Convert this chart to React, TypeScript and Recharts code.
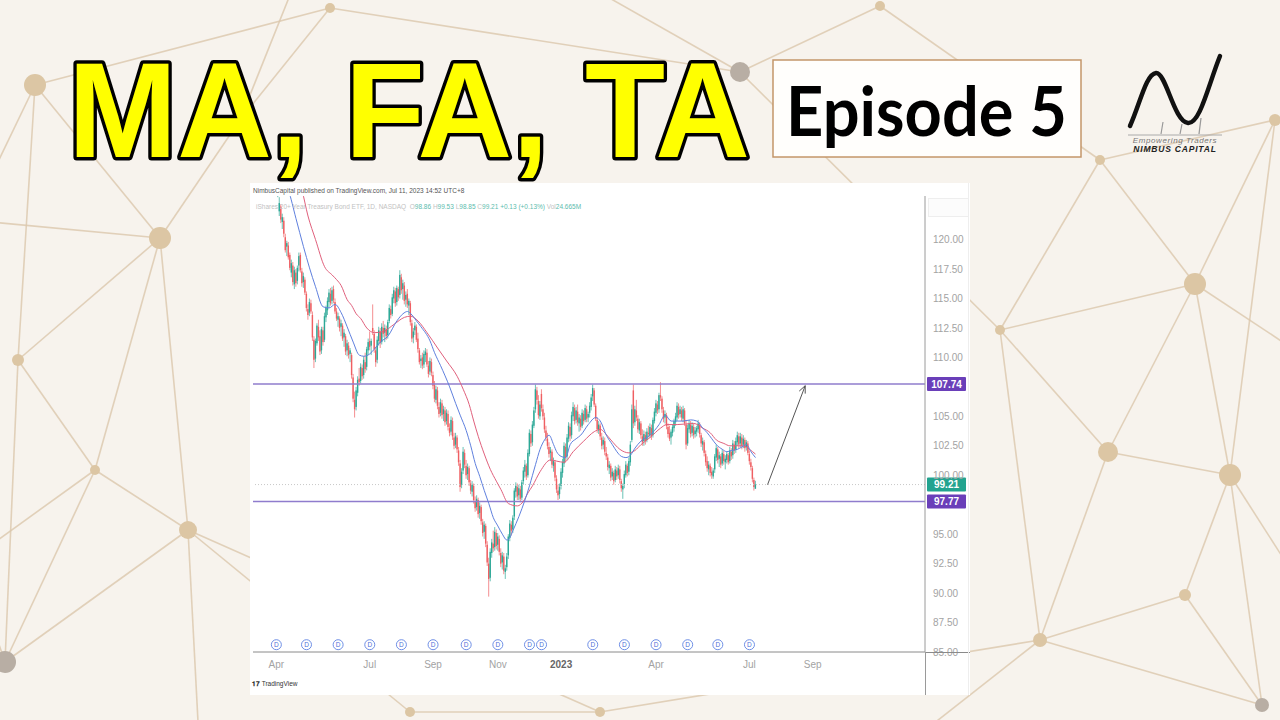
import React from 'react';
import { ComposedChart, Bar, Line, XAxis, YAxis, ReferenceLine } from 'recharts';

// ---------------- DATA ----------------
const SLOT_COUNT = 446; // daily slots incl. empty future space
const CANDLE_START = 12; // slot index of first candle

// [open, high, low, close] per trading day
const candles: number[][] = [
  [127.5,128.0,126.2,126.6],[126.4,126.9,125.2,125.6],[125.9,126.6,124.8,125.0],[124.6,125.3,123.9,124.2],[124.5,125.1,123.6,124.8],
  [122.4,123.6,122.0,123.1],[122.8,123.0,121.4,121.7],[121.5,122.2,120.9,121.9],[121.6,121.9,120.2,120.5],[120.2,120.5,118.9,119.1],
  [119.4,119.9,118.6,119.7],[119.5,119.8,118.3,118.5],[118.7,118.9,117.4,117.6],[117.2,118.3,116.8,118.0],[117.8,118.1,116.1,116.4],
  [116.2,117.7,115.8,117.4],[117.2,117.5,116.0,116.3],[116.5,117.8,116.2,117.6],[117.8,118.9,117.3,118.6],[118.7,118.9,117.2,117.4],
  [117.3,117.6,116.0,116.3],[116.4,117.2,115.9,116.9],[116.6,116.8,115.3,115.5],[115.4,115.6,113.9,114.2],[114.1,114.5,113.2,113.6],
  [113.8,115.0,113.5,114.7],[114.6,114.9,113.7,113.9],[113.6,113.9,111.4,111.7],[111.5,111.8,109.1,109.8],[109.9,111.6,109.6,111.4],
  [111.2,112.9,111.0,112.7],[112.6,113.2,111.4,111.7],[111.8,112.3,110.2,110.5],[110.6,112.6,110.3,112.4],[112.3,112.6,111.0,111.3],
  [111.5,113.8,111.3,113.5],[113.4,114.4,113.0,114.2],[114.0,115.1,113.6,114.8],[114.7,115.8,114.2,115.5],[115.4,115.9,114.4,114.6],
  [114.8,116.0,114.5,115.7],[115.8,116.1,114.6,114.9],[114.7,115.0,113.7,113.9],[113.9,114.2,113.1,113.3],[113.2,113.8,112.6,113.5],
  [113.3,113.5,112.2,112.5],[112.6,113.2,111.8,112.9],[112.7,112.9,111.4,111.6],[111.7,112.4,110.9,112.1],[111.8,112.0,110.2,110.5],
  [110.6,111.5,110.1,111.2],[111.0,111.3,109.9,110.2],[110.3,110.8,109.6,110.6],[110.2,110.4,108.2,108.5],[108.3,108.6,106.2,106.5],
  [106.4,107.1,104.9,105.6],[105.8,107.5,105.5,107.2],[107.0,108.4,106.7,108.1],[108.2,109.1,107.6,107.9],[108.0,109.5,107.8,109.2],
  [109.1,109.4,108.1,108.4],[108.5,110.1,108.2,109.8],[109.6,110.4,108.7,109.0],[109.2,110.9,108.9,110.7],[110.6,111.6,110.2,111.3],
  [111.4,112.2,110.6,110.9],[111.0,111.6,110.2,111.4],[112.5,114.5,111.9,112.2],[112.0,112.3,110.4,110.7],[110.6,110.9,109.2,109.6],
  [109.8,111.8,109.5,111.5],[111.4,112.6,111.0,112.3],[112.2,112.5,110.8,111.2],[111.3,112.9,111.1,112.6],[112.5,113.1,111.7,112.0],
  [112.1,112.8,111.3,112.5],[112.4,112.7,111.5,111.8],[111.9,113.2,111.6,113.0],[113.1,114.5,112.9,114.2],[114.1,114.4,113.3,113.6],
  [113.7,115.4,113.5,115.1],[115.0,116.0,114.6,115.7],[115.6,115.9,114.3,114.6],[114.7,116.1,114.4,115.9],[115.8,116.0,114.8,115.1],
  [115.3,117.4,115.0,117.0],[116.8,117.1,115.4,115.7],[115.8,116.6,114.9,116.3],[116.1,116.4,114.5,114.8],[114.9,115.6,114.3,115.3],
  [115.4,115.8,114.2,114.5],[114.4,115.0,113.6,114.8],[114.6,114.8,112.7,113.0],[112.9,113.2,111.3,111.6],[111.7,112.5,111.2,112.2],
  [112.3,113.0,111.9,112.7],[112.6,112.8,111.3,111.5],[111.6,112.1,110.4,110.7],[110.6,110.8,109.4,109.6],[109.7,110.2,109.1,109.9],
  [110.0,110.4,109.0,109.3],[109.4,110.6,109.1,110.3],[110.2,110.8,109.6,110.5],[110.4,110.7,109.2,109.4],[109.3,109.7,108.3,108.6],
  [108.8,110.0,108.5,109.7],[109.6,109.9,108.4,108.7],[108.5,108.8,107.3,107.6],[107.7,108.0,106.2,106.5],[106.4,107.6,106.1,107.3],
  [107.2,107.5,105.6,105.9],[105.8,106.2,104.9,105.2],[105.3,106.5,105.0,106.2],[106.1,106.4,104.8,105.1],[105.2,105.9,104.6,105.6],
  [105.5,105.8,104.2,104.5],[104.6,105.6,104.3,105.3],[105.2,105.5,103.8,104.1],[104.0,104.4,103.3,103.6],[103.7,105.0,103.4,104.7],
  [104.6,104.9,103.0,103.3],[103.2,103.6,102.2,102.5],[102.6,103.6,102.3,103.3],[103.2,103.4,101.9,102.2],[102.1,102.4,100.8,101.1],
  [101.0,101.3,98.6,99.0],[99.2,100.6,98.9,100.3],[100.4,102.4,100.1,102.0],[101.9,102.2,100.6,100.9],[100.8,101.3,99.7,100.0],
  [100.1,101.0,99.6,100.7],[100.6,100.8,99.1,99.4],[99.3,99.6,98.4,98.7],[98.6,99.5,98.2,99.2],[99.1,99.3,97.6,97.9],
  [97.8,98.2,96.9,97.2],[97.3,98.3,97.0,98.0],[97.9,98.1,96.4,96.7],[96.8,97.7,96.3,97.4],[97.3,97.5,95.8,96.1],
  [96.0,96.3,94.8,95.1],[95.2,96.1,94.6,95.8],[95.7,95.9,93.9,94.2],[94.1,94.4,92.3,92.6],[92.5,93.0,89.7,91.2],
  [91.3,93.8,91.0,93.5],[93.4,94.6,93.0,94.3],[94.2,95.3,93.5,93.8],[93.9,95.6,93.6,95.2],[95.1,95.4,93.7,94.0],
  [94.1,95.1,93.6,94.8],[94.6,94.9,93.2,93.5],[93.4,93.8,92.2,92.5],[92.6,93.5,92.0,93.2],[93.1,93.4,91.6,91.9],
  [91.8,92.4,91.2,92.1],[92.2,93.4,91.9,93.1],[93.2,95.0,92.9,94.8],[94.7,96.2,94.4,95.9],[95.8,96.1,94.9,95.3],
  [95.4,96.6,95.1,96.4],[96.5,98.9,96.2,98.7],[98.6,99.4,98.1,99.1],[99.0,99.3,97.9,98.2],[98.3,99.2,97.9,98.9],
  [98.8,99.1,97.7,98.0],[98.1,99.6,97.9,99.4],[99.5,100.7,99.2,100.4],[100.3,101.3,99.8,100.9],[100.8,101.0,99.6,99.9],
  [100.0,102.2,99.8,101.9],[101.8,103.9,101.6,103.6],[103.5,103.8,102.4,102.7],[102.8,104.6,102.5,104.3],[104.2,105.8,104.0,105.5],
  [105.6,107.7,105.3,107.3],[107.2,107.5,106.0,106.4],[106.3,106.8,104.8,105.1],[105.0,106.3,104.7,106.0],[106.9,107.3,105.4,105.7],
  [105.6,106.0,104.7,105.0],[104.9,105.3,103.6,103.9],[103.8,104.2,102.9,103.2],[103.1,103.6,102.2,102.5],[102.4,102.8,101.5,101.8],
  [101.9,102.4,101.2,102.1],[102.0,102.2,100.6,100.9],[100.8,101.5,100.3,101.2],[101.1,101.3,99.5,99.8],[99.7,100.0,98.5,98.8],
  [98.7,99.2,97.9,98.3],[98.4,99.3,98.0,99.0],[99.1,100.6,98.8,100.3],[100.2,101.4,99.8,101.1],[101.0,102.8,100.7,102.5],
  [102.4,102.7,101.1,101.5],[101.6,103.5,101.3,103.2],[103.1,104.5,102.8,104.2],[104.1,104.4,102.9,103.3],[103.4,105.4,103.1,105.1],
  [105.0,106.2,104.6,105.8],[105.7,106.0,104.3,104.6],[104.7,105.8,104.4,105.5],[105.4,106.0,104.2,104.5],[104.4,105.2,103.7,104.9],
  [104.8,105.1,103.8,104.1],[104.2,105.6,104.0,105.3],[105.2,105.5,104.3,104.6],[104.7,106.0,104.5,105.7],[105.6,105.9,104.5,104.8],
  [104.9,105.4,104.5,105.2],[105.3,106.2,104.9,105.9],[105.8,106.9,105.5,106.6],[106.7,107.7,106.3,107.4],[107.2,107.4,105.8,106.0],
  [105.9,106.1,104.6,104.8],[104.7,104.9,103.6,103.9],[103.8,104.6,103.5,104.3],[104.2,104.4,103.0,103.3],[103.2,103.6,102.2,102.5],
  [102.6,103.3,102.2,103.0],[102.9,103.2,101.7,102.0],[101.9,102.4,101.3,101.6],[101.5,101.8,100.4,100.7],[100.6,101.2,100.1,100.9],
  [100.8,101.0,99.5,99.8],[99.9,100.6,99.6,100.3],[100.2,100.4,99.2,99.5],[99.6,100.8,99.4,100.5],[100.4,100.7,99.6,99.9],
  [100.0,100.9,99.7,100.6],[100.5,100.8,99.3,99.6],[99.5,99.7,98.6,98.9],[98.8,99.3,98.0,99.1],[99.2,100.4,98.9,100.1],
  [100.0,101.2,99.8,100.9],[100.8,101.0,99.9,100.2],[100.3,101.5,100.0,101.2],[101.1,102.9,100.8,102.6],[103.0,106.0,102.8,105.6],
  [107.2,107.7,104.0,104.4],[104.5,105.9,104.2,105.6],[105.5,106.4,104.6,104.9],[104.8,105.1,103.6,103.9],[103.8,104.8,103.5,104.5],
  [104.4,104.6,103.1,103.4],[103.3,103.9,102.5,102.8],[102.9,103.8,102.5,103.5],[103.4,103.7,102.6,102.9],[103.0,104.0,102.8,103.7],
  [103.6,104.2,103.2,103.5],[103.4,104.4,103.2,104.1],[104.0,104.3,103.0,103.3],[103.4,104.9,103.2,104.7],[104.6,105.7,104.4,105.4],
  [105.3,106.4,105.0,106.1],[106.0,106.3,105.2,105.5],[105.6,107.0,105.3,106.8],[106.8,107.9,106.3,106.6],[106.5,106.7,105.3,105.6],
  [105.5,105.8,104.5,104.8],[104.9,105.5,104.4,105.2],[105.1,105.3,103.9,104.2],[104.1,104.4,103.2,103.5],[103.6,104.2,102.9,103.1],
  [103.2,103.9,102.6,103.7],[103.6,104.3,103.3,104.1],[104.0,104.8,103.7,104.6],[104.5,105.3,104.2,105.0],[104.9,106.2,104.6,105.9],
  [105.8,106.1,104.8,105.1],[105.2,105.9,104.9,105.6],[105.5,105.8,104.6,104.9],[104.8,105.9,104.5,105.6],[105.5,105.7,104.2,104.4],
  [104.3,104.7,102.2,102.6],[102.7,104.3,102.5,104.0],[103.9,104.7,103.6,104.4],[104.3,104.6,103.2,103.5],[103.6,104.5,103.3,104.2],
  [104.1,104.4,103.1,103.4],[103.5,104.1,103.2,103.8],[103.7,104.2,103.3,104.0],[103.9,104.7,103.6,104.4],[104.3,104.5,103.2,103.5],
  [103.4,103.6,102.4,102.7],[102.6,103.2,102.1,102.9],[102.8,103.0,101.6,101.9],[101.8,102.1,100.8,101.1],[101.2,101.6,100.3,100.6],
  [100.5,101.2,100.0,100.9],[100.8,101.0,99.9,100.2],[100.3,100.7,99.7,100.0],[99.9,100.6,99.7,100.4],[100.5,101.8,100.2,101.6],
  [101.5,102.6,101.2,102.3],[102.2,102.4,101.0,101.3],[101.4,102.0,100.7,101.7],[101.6,101.8,100.6,100.9],[101.0,102.2,100.8,101.9],
  [101.8,102.1,100.9,101.2],[101.1,101.7,100.5,101.4],[101.3,102.0,101.0,101.8],[101.7,101.9,100.9,101.1],[101.2,102.4,101.0,102.1],
  [102.0,102.3,101.3,101.6],[101.7,103.0,101.4,102.7],[102.6,102.9,101.8,102.1],[102.2,103.2,101.9,102.9],[102.8,103.7,102.5,103.4],
  [103.3,103.6,102.3,102.6],[102.7,103.6,102.4,103.3],[103.2,103.5,102.2,102.5],[102.6,103.4,102.3,103.1],[103.0,103.2,102.0,102.3],
  [102.4,103.0,102.1,102.8],[102.7,102.9,101.7,101.9],[101.8,102.1,100.9,101.2],[101.1,101.4,100.4,100.7],[100.6,100.8,99.4,99.7],
  [99.6,99.8,98.7,99.0],[98.86,99.53,98.85,99.21],
];

// moving averages: [slot, value]
const maFast: number[][] = [
  [14,127],[18,125.5],[23,124.2],[28,121.8],[33,119.4],[37,117.6],[41,116],[46,114.3],[50,114.2],[54,114.5],[58,113.8],[62,112.6],
  [66,111.3],[70,110.2],[73,110.1],[77,110.3],[80,110.7],[84,111.3],[89,111.8],[95,113.1],[99,113.7],[102,113.9],[105,113.6],
  [108,113.1],[111,112.6],[117,111.4],[120,110.4],[124,109.3],[130,107.5],[134,106.1],[137,105.1],[141,103.8],[144,102.5],[147,101],
  [150,99.9],[153,98.7],[156,97.6],[159,96.4],[162,95.7],[165,95.0],[168,94.5],[170,94.7],[172,95.3],[176,96.5],[180,97.9],[183,99.1],
  [185,100],[187,100.9],[190,102.2],[193,103],[196,103.4],[199,102.6],[201,102.0],[204,101.6],[207,101.5],[210,102.6],[214,103.1],
  [217,103.4],[222,104.3],[227,104.9],[230,104.6],[234,103.4],[238,102.6],[241,102],[244,101.6],[247,101.5],[250,101.7],[253,102.3],
  [257,102.9],[263,103.4],[266,103.8],[269,104.3],[273,105.1],[277,104.6],[281,104.6],[285,104.6],[290,104.7],[294,104.6],[298,104.0],
  [301,103.6],[304,103.1],[307,102.6],[311,102.2],[314,102],[317,102.1],[321,102.2],[324,102.4],[327,102.6],[330,102],[333,101.5],
];
const maSlow: number[][] = [
  [14,131],[20,128.5],[26,126.2],[32,124.2],[36,122],[41,120],[47,117.7],[52,117],[55,116.6],[58,116.1],[62,114.9],[65,114.4],
  [68,113.7],[71,113.3],[75,112.5],[80,112.1],[86,112.2],[93,112.8],[100,113.4],[104,113.5],[109,113.1],[115,112.1],[122,110.8],
  [128,109.7],[135,108.4],[139,107.3],[143,106],[146,104.6],[149,103.3],[153,101.8],[157,100.5],[161,99.5],[164,98.8],[169,97.6],
  [175,97.4],[179,97.8],[182,98.5],[185,99.1],[190,100.3],[197,101.3],[201,101.2],[206,101.1],[212,102],[219,102.9],[226,103.7],
  [230,103.9],[233,103.6],[237,103],[243,102.2],[249,101.9],[253,102.1],[257,102.6],[263,103.2],[270,104],[274,104.3],[281,104.3],
  [292,104.4],[298,104],[303,103.6],[307,103],[312,102.7],[316,102.5],[325,102.5],[329,102.2],[333,101.8],
];

const dividendSlots = [15,35,56,77,98,119,141,162,183,191,225,246,267,288,308,329];
const monthTickSlots = [15,77,119,162,204,267,329,371];
const monthTickLabels = ['Apr','Jul','Sep','Nov','2023','Apr','Jul','Sep'];
const priceTicks = [85,87.5,90,92.5,95,100,102.5,105,110,112.5,115,117.5,120];
const resistanceLevel = 107.74;
const supportLevel = 97.77;
const lastClose = 99.21;
const arrowFrom = { slot: 341, price: 99.2 };
const arrowTo = { slot: 366, price: 107.6 };
const arrowHeadA = { slot: 362, price: 107.14 };
const arrowHeadB = { slot: 366, price: 106.93 };

// ---------------- STYLE ----------------
const UP = '#2ba896';
const DOWN = '#ef5f62';
const FAST = '#5f80de';
const SLOW = '#e0607c';
const LEVEL = '#8f7ccd';
const LEVEL_TAG = '#6a3fb9';
const CLOSE_TAG = '#22a38f';
const DIV_Y = 85.62;
const Y_DOMAIN: [number, number] = [85, 123.7];

const fastMap = new Map(maFast.map(([s, v]) => [s, v]));
const slowMap = new Map(maSlow.map(([s, v]) => [s, v]));
const divSet = new Set(dividendSlots);

const table = Array.from({ length: SLOT_COUNT }, (_, i) => {
  const k = i - CANDLE_START;
  const cd = k >= 0 && k < candles.length ? candles[k] : null;
  return {
    i,
    o: cd ? cd[0] : null,
    h: cd ? cd[1] : null,
    l: cd ? cd[2] : null,
    c: cd ? cd[3] : null,
    range: cd ? [cd[2], cd[1]] : null,
    fast: fastMap.has(i) ? fastMap.get(i) : null,
    slow: slowMap.has(i) ? slowMap.get(i) : null,
    div: divSet.has(i) ? DIV_Y : null,
  };
});

const Candle = (props: any) => {
  const { x, y, width, height, payload } = props;
  if (!payload || payload.o == null || x == null) return <g />;
  const { o, h, l, c } = payload;
  const top = Math.min(y, y + height);
  const bot = Math.max(y, y + height);
  const k = (bot - top) / (h - l || 1);
  const yOf = (v: number) => top + (h - v) * k;
  const cx = x + width / 2;
  const col = c >= o ? UP : DOWN;
  const bt = yOf(Math.max(o, c));
  const bb = yOf(Math.min(o, c));
  return (
    <g>
      <line x1={cx} x2={cx} y1={top} y2={bot} stroke={col} strokeWidth={0.7} />
      <rect x={cx - 0.7} y={bt} width={1.4} height={Math.max(0.8, bb - bt)} fill={col} />
    </g>
  );
};

const DivDot = (p: any) => {
  if (p.value == null || p.cx == null) return <g key={`d${p.index}`} />;
  return (
    <g key={`d${p.index}`}>
      <circle cx={p.cx} cy={p.cy} r={5} fill="#fff" stroke="#6f8fe6" strokeWidth={1} />
      <text x={p.cx} y={p.cy + 2.4} textAnchor="middle" fontSize={6.5} fill="#4f6fd8" fontFamily="Liberation Sans, Arial">D</text>
    </g>
  );
};

const PriceTag = (props: any) => {
  const { viewBox, text, bg } = props;
  if (!viewBox) return null;
  const right = viewBox.x + viewBox.width;
  const y = viewBox.y;
  return (
    <g>
      <rect x={right + 2} y={y - 7} width={39} height={14} fill={bg} rx={1} />
      <text x={right + 21.5} y={y + 3.6} textAnchor="middle" fill="#fff" fontSize={10} fontWeight={700} fontFamily="Liberation Sans, Arial">{text}</text>
    </g>
  );
};

const MonthTick = (p: any) => {
  const idx = monthTickSlots.indexOf(p.payload.value);
  const label = idx >= 0 ? monthTickLabels[idx] : '';
  const bold = label === '2023';
  return (
    <text x={p.x} y={p.y + 8} textAnchor="middle" fontSize={10} fill={bold ? '#666' : '#a3a3a3'} fontWeight={bold ? 700 : 400} fontFamily="Liberation Sans, Arial">{label}</text>
  );
};

// decorative background network
const bgNodes: number[][] = [
  [35,85,11],[160,238,11],[188,530,9],[5,662,11],[740,72,10],[1195,284,11],[1108,452,10],[1230,475,11],[1040,640,7],
  [95,470,5],[330,8,5],[1262,705,7],[600,712,5],[1000,330,5],[880,6,5],[1185,595,6],[410,712,5],[18,360,6],[240,120,4],
  [1275,120,6],[1100,160,5],[-30,220,0],[300,-30,0],[1310,360,0],[900,750,0],[200,760,0],[-30,560,0],[560,-30,0],[1310,600,0],
];
const bgEdges: number[][] = [
  [0,1],[0,10],[0,17],[1,17],[1,2],[1,9],[1,18],[18,10],[2,3],[2,9],[2,16],[3,9],[3,17],[4,10],[4,14],[4,13],[4,27],
  [5,6],[5,7],[5,13],[5,19],[5,20],[20,14],[20,13],[6,7],[6,8],[6,13],[7,15],[7,11],[8,15],[8,12],[8,11],[13,8],[12,16],
  [2,12],[19,7],[9,17],[0,21],[18,22],[5,23],[8,24],[2,25],[3,26],[7,28],[15,11],[20,19],[1,21],[9,26],
];

const Background = () => (
  <svg width={1280} height={720} style={{ position: 'absolute', left: 0, top: 0 }}>
    <rect width={1280} height={720} fill="#f7f3ed" />
    {bgEdges.map(([a, b], k) => (
      <line key={k} x1={bgNodes[a][0]} y1={bgNodes[a][1]} x2={bgNodes[b][0]} y2={bgNodes[b][1]} stroke="#dcc8ad" strokeWidth={1.6} opacity={0.8} />
    ))}
    {bgNodes.filter(n => n[2] > 0).map(([x, y, r], k) => (
      <circle key={k} cx={x} cy={y} r={r} fill={k === 3 || k === 4 || k === 11 ? '#b8aea4' : '#dcc6a4'} />
    ))}
  </svg>
);

export default function App() {
  return (
    <div style={{ position: 'absolute', left: 0, top: 0, width: 1280, height: 720, overflow: 'hidden', fontFamily: 'Liberation Sans, Arial, sans-serif' }}>
      <Background />
      {/* Title, episode box, logo */}
      <svg width={1280} height={720} style={{ position: 'absolute', left: 0, top: 0, pointerEvents: 'none' }}>
        <text x={68} y={157} fontSize={135} fontWeight={700} fontFamily="Liberation Sans, Arial" textLength={682} lengthAdjust="spacingAndGlyphs"
          fill="#ffff00" stroke="#000" strokeWidth={7} strokeLinejoin="round" style={{ paintOrder: 'stroke' }}>MA, FA, TA</text>
        <rect x={773} y={60} width={308} height={97} fill="#fffefc" stroke="#c4966a" strokeWidth={1.5} />
        <text x={786} y={136} fontSize={68} fontWeight={700} fontFamily="Lato, Liberation Sans, Arial" textLength={281} lengthAdjust="spacingAndGlyphs" fill="#000">Episode 5</text>
        {/* logo */}
        <path d="M1130 126 C1140 104, 1146 74, 1156 73 C1166 72, 1174 122, 1188 123 C1200 124, 1208 86, 1220 56" fill="none" stroke="#111" strokeWidth={4.5} strokeLinecap="round" />
        <line x1={1163} y1={122} x2={1161} y2={134} stroke="#999" strokeWidth={1.2} />
        <line x1={1182} y1={124} x2={1180} y2={134} stroke="#999" strokeWidth={1.2} />
        <line x1={1201} y1={118} x2={1199} y2={134} stroke="#999" strokeWidth={1.2} />
        <line x1={1128} y1={135} x2={1222} y2={135} stroke="#aaa" strokeWidth={1} />
        <text x={1175} y={143} textAnchor="middle" fontSize={8} fontStyle="italic" fill="#777" letterSpacing={0.6}>Empowering Traders</text>
        <text x={1175} y={152} textAnchor="middle" fontSize={8.5} fontStyle="italic" fontWeight={700} fill="#222" letterSpacing={0.8}>NIMBUS CAPITAL</text>
      </svg>

      {/* Chart panel */}
      <div style={{ position: 'absolute', left: 250, top: 183, width: 720, height: 512, background: '#fff' }}>
        <ComposedChart width={720} height={512} data={table} margin={{ top: 13, right: 0, left: 3, bottom: 21 }}>
          <XAxis dataKey="i" type="category" ticks={monthTickSlots} interval={0} tick={<MonthTick />} tickLine={false}
            axisLine={{ stroke: '#8a8a8a' }} height={22} />
          <YAxis orientation="right" width={45} domain={Y_DOMAIN} allowDataOverflow ticks={priceTicks} interval={0}
            tickFormatter={(v: number) => v.toFixed(2)} tick={{ fontSize: 10, fill: '#a3a3a3', fontFamily: 'Liberation Sans, Arial' }}
            tickLine={false} axisLine={{ stroke: '#9a9a9a' }} />
          <ReferenceLine y={lastClose} stroke="#c8c8c8" strokeDasharray="1 2" label={<PriceTag text={lastClose.toFixed(2)} bg={CLOSE_TAG} />} />
          <ReferenceLine y={resistanceLevel} stroke={LEVEL} strokeWidth={1.6} label={<PriceTag text={resistanceLevel.toFixed(2)} bg={LEVEL_TAG} />} />
          <ReferenceLine y={supportLevel} stroke={LEVEL} strokeWidth={1.6} label={<PriceTag text={supportLevel.toFixed(2)} bg={LEVEL_TAG} />} />
          <Bar dataKey="range" shape={<Candle />} isAnimationActive={false} />
          <Line dataKey="slow" type="monotone" stroke={SLOW} strokeWidth={1} dot={false} activeDot={false} connectNulls isAnimationActive={false} />
          <Line dataKey="fast" type="monotone" stroke={FAST} strokeWidth={1} dot={false} activeDot={false} connectNulls isAnimationActive={false} />
          <Line dataKey="div" stroke="none" dot={DivDot} activeDot={false} isAnimationActive={false} />
          <ReferenceLine segment={[{ x: arrowFrom.slot, y: arrowFrom.price }, { x: arrowTo.slot, y: arrowTo.price }]} stroke="#555" strokeWidth={1} ifOverflow="visible" />
          <ReferenceLine segment={[{ x: arrowHeadA.slot, y: arrowHeadA.price }, { x: arrowTo.slot, y: arrowTo.price }]} stroke="#555" strokeWidth={1} ifOverflow="visible" />
          <ReferenceLine segment={[{ x: arrowHeadB.slot, y: arrowHeadB.price }, { x: arrowTo.slot, y: arrowTo.price }]} stroke="#555" strokeWidth={1} ifOverflow="visible" />
        </ComposedChart>
        {/* header texts */}
        <div style={{ position: 'absolute', left: 3, top: 4, fontSize: 6.5, color: '#555', whiteSpace: 'nowrap' }}>
          NimbusCapital published on TradingView.com, Jul 11, 2023 14:52 UTC+8
        </div>
        <div style={{ position: 'absolute', left: 6, top: 19.5, fontSize: 6.5, color: '#c2c2c2', whiteSpace: 'nowrap' }}>
          iShares 20+ Year Treasury Bond ETF, 1D, NASDAQ&nbsp;&nbsp;O<span style={{ color: '#5cbcae' }}>98.86</span> H<span style={{ color: '#5cbcae' }}>99.53</span> L<span style={{ color: '#5cbcae' }}>98.85</span> C<span style={{ color: '#5cbcae' }}>99.21</span> <span style={{ color: '#5cbcae' }}>+0.13 (+0.13%)</span> Vol<span style={{ color: '#5cbcae' }}>24.665M</span>
        </div>
        <div style={{ position: 'absolute', left: 678, top: 15, width: 39, height: 17, border: '1px solid #eee', background: '#fcfcfc' }} />
        <div style={{ position: 'absolute', left: 675, top: 469, width: 45, height: 1, background: '#8a8a8a' }} />
        <div style={{ position: 'absolute', left: 675, top: 469, width: 1, height: 43, background: '#9a9a9a' }} />
        <div style={{ position: 'absolute', left: 718, top: 0, width: 1, height: 512, background: '#eee' }} />
        <div style={{ position: 'absolute', left: 2, top: 497, fontSize: 6.5, color: '#333', whiteSpace: 'nowrap' }}>
          <b>𝟏𝟕</b> TradingView
        </div>
      </div>
    </div>
  );
}
